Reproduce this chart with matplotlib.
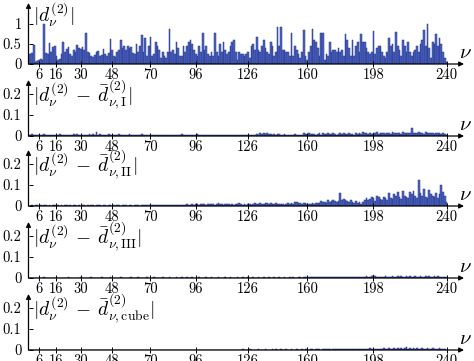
import numpy as np
import matplotlib
matplotlib.use('Agg')
import matplotlib.pyplot as plt

plt.rcParams['mathtext.fontset'] = 'cm'
plt.rcParams['font.family'] = 'cmr10'
plt.rcParams['axes.formatter.use_mathtext'] = True

nu = np.arange(1, 241)
xticks = [6, 16, 30, 48, 70, 96, 126, 160, 198, 240]

# |d_nu^(2)|
d2 = [0.25, 0.27, 0.48, 0.06, 0.08, 0.1, 0.12, 0.1, 1.0, 0.27,
      0.25, 0.52, 0.3, 0.42, 0.45, 0.2, 0.1, 0.12, 0.25, 0.55,
      0.3, 0.38, 0.42, 0.25, 0.2, 0.35, 0.3, 0.48, 0.4, 0.38,
      0.42, 0.35, 0.78, 0.3, 0.28, 0.2, 0.18, 0.22, 0.3, 0.32,
      0.2, 0.22, 0.37, 0.25, 0.2, 0.28, 0.62, 0.35, 0.2, 0.18,
      0.3, 0.35, 0.6, 0.4, 0.45, 0.35, 0.45, 0.4, 0.42, 0.28,
      0.25, 0.5, 0.3, 0.45, 0.72, 0.3, 0.65, 0.2, 0.45, 0.68,
      0.2, 0.25, 0.55, 0.45, 0.35, 0.15, 0.3, 0.2, 0.15, 0.3,
      0.87, 0.3, 0.35, 0.25, 0.55, 0.4, 0.2, 0.2, 0.45, 0.3,
      0.45, 0.55, 0.6, 0.5, 0.35, 0.25, 0.2, 0.45, 0.3, 0.78,
      0.35, 0.45, 0.25, 0.2, 0.3, 0.2, 0.78, 0.3, 0.2, 0.5,
      0.3, 0.55, 0.35, 0.25, 0.3, 0.45, 0.55, 0.6, 0.3, 0.1,
      0.3, 0.25, 0.25, 0.2, 0.25, 0.3, 0.15, 0.45, 0.5, 0.35,
      0.68, 0.35, 0.3, 0.45, 0.6, 0.4, 0.3, 0.25, 0.55, 0.45,
      0.2, 0.3, 0.92, 0.45, 0.93, 0.35, 0.35, 0.3, 0.3, 0.2,
      0.78, 0.2, 0.45, 0.35, 0.25, 0.15, 0.3, 0.85, 0.2, 0.1,
      0.3, 0.45, 0.88, 0.6, 0.55, 0.4, 0.2, 0.78, 0.78, 0.1,
      0.25, 0.2, 0.55, 0.3, 0.35, 0.35, 0.3, 0.4, 0.3, 0.35,
      0.2, 0.75, 0.6, 0.4, 0.2, 0.6, 0.2, 0.45, 0.55, 0.3,
      0.75, 0.55, 0.55, 0.4, 0.3, 0.25, 0.3, 0.82, 0.25, 0.4,
      0.45, 0.45, 0.3, 0.2, 0.15, 0.3, 0.65, 0.45, 0.5, 0.3,
      0.8, 0.45, 0.35, 0.2, 0.6, 0.45, 0.3, 0.55, 0.3, 0.2,
      0.3, 0.35, 0.45, 0.3, 0.5, 0.6, 0.85, 0.45, 1.0, 0.4,
      0.15, 0.55, 0.5, 0.75, 0.45, 0.65, 0.5, 0.3, 0.15, 0.05]

# |d - dbar_I|
dI = [.004, .008, .006, .003, .005, .007, .004, .006, .009, .005, .004, .006, .003, .005, .007, .004, .006, .008, .005, .004,
      .006, .005, .007, .004, .006, .008, .005, .009, .006, .004, .005, .007, .006, .004, .008, .006, .010, .005, .020, .006,
      .008, .005, .007, .006, .004, .009, .006, .005, .007, .004, .006, .008, .005, .004, .007, .006, .005, .008, .004, .006,
      .005, .007, .004, .006, .008, .005, .004, .007, .006, .005, .004, .006, .005, .007, .004, .006, .005, .004, .007, .005,
      .006, .004, .005, .007, .004, .006, .005, .008, .004, .006, .005, .004, .007, .005, .006, .004, .008, .005, .006, .004,
      .005, .007, .004, .006, .005, .004, .006, .005, .007, .004, .006, .005, .004, .006, .007, .005, .004, .006, .005, .004,
      .006, .005, .004, .007, .005, .006, .004, .005, .006, .004, .008, .006, .012, .010, .014, .009, .012, .008, .011, .007,
      .009, .006, .008, .010, .007, .005, .008, .006, .004, .007, .005, .006, .008, .004, .006, .007, .005, .012, .008, .010,
      .014, .009, .011, .008, .006, .010, .012, .007, .015, .009, .011, .013, .008, .010, .012, .009, .007, .011, .014, .010,
      .012, .008, .010, .013, .009, .011, .007, .012, .010, .014, .009, .018, .012, .016, .011, .013, .010, .015, .012, .017,
      .011, .014, .012, .016, .010, .013, .015, .011, .017, .013, .012, .016, .014, .011, .018, .013, .015, .012, .014, .038,
      .014, .016, .012, .018, .013, .015, .011, .017, .014, .012, .016, .013, .011, .015, .012, .014, .010, .013, .008, .006]

# |d - dbar_II|
dII = [.002, .003, .002, .004, .003, .002, .003, .002, .004, .003, .002, .003, .002, .003, .004, .002, .003, .002, .003, .002,
       .003, .004, .002, .003, .002, .003, .004, .002, .003, .002, .004, .003, .002, .003, .002, .004, .003, .002, .003, .004,
       .003, .002, .004, .003, .002, .003, .004, .002, .003, .002, .004, .003, .002, .003, .004, .003, .002, .004, .003, .002,
       .003, .004, .003, .002, .004, .003, .005, .003, .004, .003, .005, .004, .003, .004, .005, .003, .004, .005, .003, .004,
       .005, .004, .006, .004, .005, .006, .004, .007, .005, .006, .008, .005, .007, .009, .006, .008, .010, .007, .009, .008,
       .010, .007, .009, .011, .008, .010, .007, .009, .012, .008, .010, .006, .009, .011, .008, .006, .009, .007, .010, .008,
       .012, .009, .007, .010, .006, .008, .011, .007, .009, .012, .008, .010, .013, .009, .011, .016, .012, .010, .014, .011,
       .009, .012, .010, .008, .011, .009, .007, .010, .012, .008, .015, .011, .018, .020, .016, .013, .010, .014, .012, .009,
       .011, .008, .013, .010, .015, .012, .016, .024, .018, .021, .015, .030, .020, .026, .030, .022, .018, .025, .060, .028,
       .032, .030, .024, .018, .028, .020, .015, .022, .012, .018, .010, .020, .028, .040, .030, .035, .045, .038, .025, .050,
       .042, .035, .030, .045, .036, .028, .060, .040, .032, .055, .048, .065, .042, .035, .070, .050, .045, .038, .065, .055,
       .072, .048, .040, .125, .060, .050, .080, .045, .040, .075, .055, .050, .045, .060, .040, .055, .098, .065, .050, .020]

# |d - dbar_III|
dIII = [.001, .002, .001, .002, .002, .001, .002, .001, .003, .001, .002, .001, .002, .001, .002, .003, .001, .002, .001, .002,
        .002, .001, .003, .001, .002, .002, .001, .002, .001, .003, .002, .001, .002, .001, .002, .003, .001, .002, .002, .001,
        .002, .003, .001, .002, .001, .002, .003, .002, .001, .002, .001, .002, .003, .001, .002, .001, .002, .002, .003, .001,
        .002, .001, .003, .002, .001, .002, .001, .003, .002, .001, .002, .003, .001, .002, .002, .001, .003, .002, .001, .002,
        .003, .001, .002, .002, .003, .001, .002, .003, .001, .002, .003, .002, .001, .003, .002, .001, .002, .003, .002, .001,
        .002, .003, .002, .001, .003, .002, .002, .001, .003, .002, .001, .002, .003, .002, .001, .003, .002, .002, .001, .003,
        .002, .001, .003, .002, .002, .003, .001, .002, .003, .002, .001, .003, .002, .002, .003, .001, .002, .003, .002, .002,
        .003, .002, .001, .003, .002, .002, .003, .002, .001, .003, .002, .003, .002, .002, .004, .003, .002, .003, .004, .006,
        .004, .003, .005, .004, .003, .005, .004, .006, .003, .005, .004, .003, .006, .004, .005, .003, .004, .006, .005, .004,
        .005, .003, .006, .004, .005, .004, .006, .003, .005, .007, .004, .006, .005, .008, .006, .007, .009, .012, .008, .006,
        .005, .007, .006, .004, .008, .006, .005, .007, .009, .006, .005, .008, .006, .010, .007, .005, .008, .006, .009, .007,
        .006, .009, .007, .005, .008, .006, .007, .010, .006, .008, .005, .007, .009, .006, .008, .005, .007, .006, .004, .003]

# |d - dbar_cube|
dcube = [.001, .001, .002, .001, .001, .002, .001, .001, .002, .001, .001, .001, .002, .001, .001, .002, .001, .001, .002, .001,
         .001, .002, .001, .001, .002, .001, .001, .002, .001, .001, .002, .001, .002, .001, .001, .002, .001, .001, .002, .001,
         .002, .001, .001, .002, .001, .001, .002, .001, .002, .001, .001, .002, .001, .001, .002, .001, .002, .001, .001, .002,
         .001, .002, .001, .001, .002, .001, .002, .001, .001, .002, .001, .001, .002, .001, .002, .001, .001, .002, .001, .002,
         .001, .002, .001, .002, .001, .001, .002, .001, .002, .001, .002, .001, .001, .002, .001, .002, .001, .002, .001, .001,
         .002, .001, .002, .001, .002, .001, .001, .002, .001, .002, .001, .002, .001, .001, .002, .001, .002, .001, .002, .001,
         .002, .001, .003, .002, .001, .002, .003, .001, .002, .002, .001, .003, .002, .001, .002, .003, .002, .001, .002, .003,
         .002, .003, .001, .002, .003, .002, .001, .003, .002, .002, .003, .001, .002, .003, .002, .002, .003, .002, .004, .003,
         .002, .004, .003, .002, .004, .003, .005, .002, .003, .004, .003, .005, .003, .002, .004, .003, .005, .004, .003, .004,
         .003, .005, .004, .006, .004, .003, .005, .004, .006, .005, .004, .006, .007, .005, .006, .008, .007, .005, .006, .004,
         .005, .007, .006, .008, .005, .006, .009, .006, .007, .010, .006, .008, .007, .011, .006, .008, .012, .007, .009, .006,
         .008, .006, .009, .007, .005, .008, .006, .007, .009, .006, .005, .008, .006, .007, .005, .008, .006, .004, .003, .002]

labels = [r'$|d_\nu^{(2)}|$',
          r'$|d_\nu^{(2)}\,-\,\bar{d}_{\nu,\mathrm{I}}^{(2)}|$',
          r'$|d_\nu^{(2)}\,-\,\bar{d}_{\nu,\mathrm{II}}^{(2)}|$',
          r'$|d_\nu^{(2)}\,-\,\bar{d}_{\nu,\mathrm{III}}^{(2)}|$',
          r'$|d_\nu^{(2)}\,-\,\bar{d}_{\nu,\mathrm{cube}}^{(2)}|$']
series = [d2, dI, dII, dIII, dcube]

W, H = 474, 361
fig = plt.figure(figsize=(W / 100, H / 100), dpi=100)

x0 = 28.5
xw = 435.5
baselines = [64, 136, 206, 278, 350]   # pixels from top

for i, vals in enumerate(series):
    if i == 0:
        ytop, hpx = 1.525, 61
        yt, ytl = [0, 0.5, 1], ['0', '0.5', '1']
    else:
        ytop, hpx = 0.267, 56
        yt, ytl = [0, 0.1, 0.2], ['0', '0.1', '0.2']
    bot = H - baselines[i]
    ax = fig.add_axes([x0 / W, bot / H, xw / W, hpx / H])
    ax.patch.set_alpha(0)
    ax.bar(nu, vals, width=1.0, color='#4d63bf', edgecolor='#24378a', lw=0.35)
    ax.set_xlim(0, 250)
    ax.set_ylim(0, ytop)
    for s in ax.spines.values():
        s.set_visible(False)
    arrow = dict(arrowstyle='-|>', lw=0.9, color='k', mutation_scale=7,
                 shrinkA=0, shrinkB=0)
    ax.annotate('', xy=(250, 0), xytext=(0, 0), arrowprops=arrow, annotation_clip=False)
    ax.annotate('', xy=(0, ytop), xytext=(0, 0), arrowprops=arrow, annotation_clip=False)
    ax.set_xticks(xticks)
    ax.set_xticklabels([str(t) for t in xticks])
    ax.set_yticks(yt)
    ax.set_yticklabels(ytl)
    ax.tick_params(axis='x', direction='inout', length=4, width=0.7, pad=1, labelsize=10.5)
    ax.tick_params(axis='y', direction='in', length=3, width=0.7, pad=5, labelsize=10.5)
    ax.text(251, 0.03 * ytop, r'$\nu$', fontsize=15, ha='center', va='bottom')
    ax.text(0.011, 1.03, labels[i], transform=ax.transAxes, fontsize=14,
            ha='left', va='top')

fig.savefig('out.png', dpi=100)
